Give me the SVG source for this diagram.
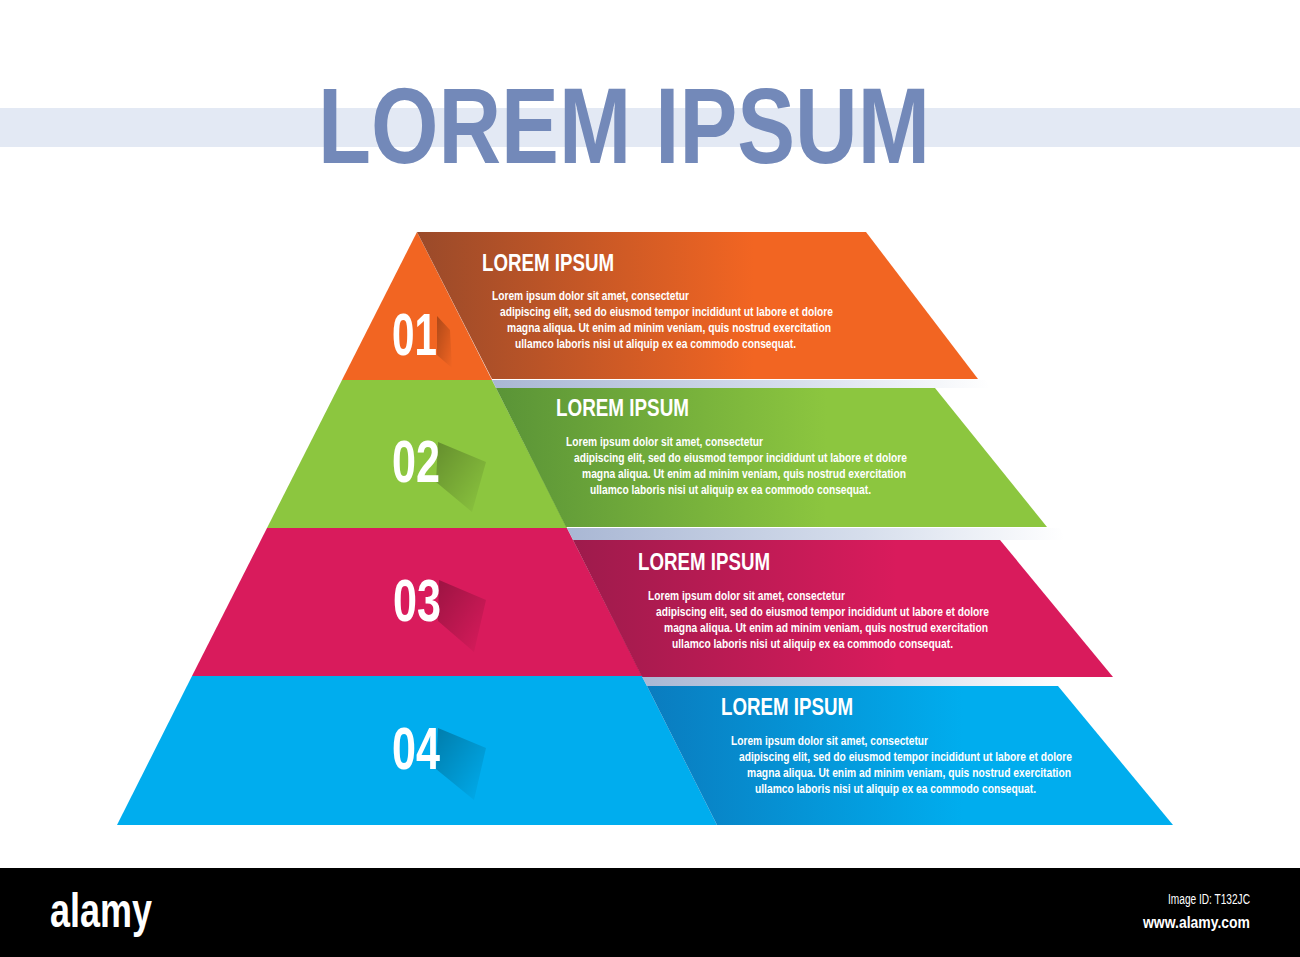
<svg xmlns="http://www.w3.org/2000/svg" width="1300" height="957" viewBox="0 0 1300 957">
<defs>
<style>
.num{font-family:"Liberation Sans",Arial,sans-serif;font-weight:bold;font-size:60px;fill:#ffffff}
.ttl{font-family:"Liberation Sans",Arial,sans-serif;font-weight:bold;font-size:24px;fill:#ffffff}
.body{font-family:"Liberation Sans",Arial,sans-serif;font-weight:bold;font-size:12px;fill:#ffffff}
.head{font-family:"Liberation Sans",Arial,sans-serif;font-weight:bold;font-size:108px;fill:#7389b9}
</style>
<linearGradient id="gO" x1="0" y1="0" x2="1" y2="0"><stop offset="0" stop-color="#9a4a2a"/><stop offset="0.6" stop-color="#f26522"/><stop offset="1" stop-color="#f26522"/></linearGradient>
<linearGradient id="gG" x1="0" y1="0" x2="1" y2="0"><stop offset="0" stop-color="#5a9437"/><stop offset="0.6" stop-color="#8cc63f"/><stop offset="1" stop-color="#8cc63f"/></linearGradient>
<linearGradient id="gP" x1="0" y1="0" x2="1" y2="0"><stop offset="0" stop-color="#9e1b4c"/><stop offset="0.6" stop-color="#d91b5c"/><stop offset="1" stop-color="#d91b5c"/></linearGradient>
<linearGradient id="gB" x1="0" y1="0" x2="1" y2="0"><stop offset="0" stop-color="#0a7cbf"/><stop offset="0.6" stop-color="#00adee"/><stop offset="1" stop-color="#00adee"/></linearGradient>
<linearGradient id="strip" x1="0" y1="0" x2="1" y2="0"><stop offset="0" stop-color="#a9b7d4"/><stop offset="0.6" stop-color="#d6deec"/><stop offset="1" stop-color="#ffffff"/></linearGradient>
<linearGradient id="shd" x1="0" y1="0" x2="1" y2="1"><stop offset="0" stop-color="#000000" stop-opacity="0.28"/><stop offset="1" stop-color="#000000" stop-opacity="0"/></linearGradient>
</defs>
<rect x="0" y="0" width="1300" height="957" fill="#ffffff"/>
<g id="header">
<rect x="0" y="108" width="1300" height="39" fill="#e3e9f4"/>
<text class="head" x="318" y="163" textLength="612" lengthAdjust="spacingAndGlyphs">LOREM IPSUM</text>
</g>
<g id="tier1">
<polygon points="417,232 492,380 342,380" fill="#f26522"/>
<polygon points="417,232 866,232 978,379 492,379" fill="url(#gO)"/>
<polygon points="437,316 450,330 452,368 437,355" fill="url(#shd)"/>
<text class="num" x="392" y="355" textLength="45" lengthAdjust="spacingAndGlyphs">01</text>
<text class="ttl" x="482" y="271" textLength="132" lengthAdjust="spacingAndGlyphs">LOREM IPSUM</text>
<text class="body" x="492" y="300" textLength="197" lengthAdjust="spacingAndGlyphs">Lorem ipsum dolor sit amet, consectetur</text>
<text class="body" x="500" y="316" textLength="333" lengthAdjust="spacingAndGlyphs">adipiscing elit, sed do eiusmod tempor incididunt ut labore et dolore</text>
<text class="body" x="507" y="332" textLength="324" lengthAdjust="spacingAndGlyphs">magna aliqua. Ut enim ad minim veniam, quis nostrud exercitation</text>
<text class="body" x="515" y="348" textLength="281" lengthAdjust="spacingAndGlyphs">ullamco laboris nisi ut aliquip ex ea commodo consequat.</text>
</g>
<g id="tier2">
<polygon points="342,380 492,380 567,528 267,528" fill="#8cc63f"/>
<polygon points="492,380 985,380 990,388 496,388" fill="url(#strip)"/>
<polygon points="496,388 935,388 1047,527 566,527" fill="url(#gG)"/>
<polygon points="438,442 486,462 472,512 436,482" fill="url(#shd)"/>
<text class="num" x="392" y="482" textLength="48" lengthAdjust="spacingAndGlyphs">02</text>
<text class="ttl" x="556" y="416" textLength="133" lengthAdjust="spacingAndGlyphs">LOREM IPSUM</text>
<text class="body" x="566" y="446" textLength="197" lengthAdjust="spacingAndGlyphs">Lorem ipsum dolor sit amet, consectetur</text>
<text class="body" x="574" y="462" textLength="333" lengthAdjust="spacingAndGlyphs">adipiscing elit, sed do eiusmod tempor incididunt ut labore et dolore</text>
<text class="body" x="582" y="478" textLength="324" lengthAdjust="spacingAndGlyphs">magna aliqua. Ut enim ad minim veniam, quis nostrud exercitation</text>
<text class="body" x="590" y="494" textLength="281" lengthAdjust="spacingAndGlyphs">ullamco laboris nisi ut aliquip ex ea commodo consequat.</text>
</g>
<g id="tier3">
<polygon points="267,528 567,528 642,676 192,676" fill="#d91b5c"/>
<polygon points="567,528 1060,528 1065,540 573,540" fill="url(#strip)"/>
<polygon points="573,540 1000,540 1113,677 642,677" fill="url(#gP)"/>
<polygon points="439,580 486,600 474,652 438,621" fill="url(#shd)"/>
<text class="num" x="393" y="621" textLength="48" lengthAdjust="spacingAndGlyphs">03</text>
<text class="ttl" x="638" y="570" textLength="132" lengthAdjust="spacingAndGlyphs">LOREM IPSUM</text>
<text class="body" x="648" y="600" textLength="197" lengthAdjust="spacingAndGlyphs">Lorem ipsum dolor sit amet, consectetur</text>
<text class="body" x="656" y="616" textLength="333" lengthAdjust="spacingAndGlyphs">adipiscing elit, sed do eiusmod tempor incididunt ut labore et dolore</text>
<text class="body" x="664" y="632" textLength="324" lengthAdjust="spacingAndGlyphs">magna aliqua. Ut enim ad minim veniam, quis nostrud exercitation</text>
<text class="body" x="672" y="648" textLength="281" lengthAdjust="spacingAndGlyphs">ullamco laboris nisi ut aliquip ex ea commodo consequat.</text>
</g>
<g id="tier4">
<polygon points="192,676 642,676 717,825 117,825" fill="#00adee"/>
<polygon points="642,677 1060,677 1062,686 647,686" fill="url(#strip)"/>
<polygon points="647,686 1058,686 1173,825 717,825" fill="url(#gB)"/>
<polygon points="438,728 486,748 474,800 436,769" fill="url(#shd)"/>
<text class="num" x="392" y="769" textLength="48" lengthAdjust="spacingAndGlyphs">04</text>
<text class="ttl" x="721" y="715" textLength="132" lengthAdjust="spacingAndGlyphs">LOREM IPSUM</text>
<text class="body" x="731" y="745" textLength="197" lengthAdjust="spacingAndGlyphs">Lorem ipsum dolor sit amet, consectetur</text>
<text class="body" x="739" y="761" textLength="333" lengthAdjust="spacingAndGlyphs">adipiscing elit, sed do eiusmod tempor incididunt ut labore et dolore</text>
<text class="body" x="747" y="777" textLength="324" lengthAdjust="spacingAndGlyphs">magna aliqua. Ut enim ad minim veniam, quis nostrud exercitation</text>
<text class="body" x="755" y="793" textLength="281" lengthAdjust="spacingAndGlyphs">ullamco laboris nisi ut aliquip ex ea commodo consequat.</text>
</g>
<g id="connectors"></g>
<g id="banner">
<rect x="0" y="868" width="1300" height="89" fill="#000000"/>
<text x="50" y="927" font-family="Liberation Sans,Arial,sans-serif" font-weight="bold" font-size="48" fill="#ffffff" textLength="102" lengthAdjust="spacingAndGlyphs">alamy</text>
<text x="1168" y="904" font-family="Liberation Sans,Arial,sans-serif" font-size="14" fill="#ffffff" textLength="82" lengthAdjust="spacingAndGlyphs">Image ID: T132JC</text>
<text x="1143" y="928" font-family="Liberation Sans,Arial,sans-serif" font-weight="bold" font-size="17" fill="#ffffff" textLength="107" lengthAdjust="spacingAndGlyphs">www.alamy.com</text>
</g>
</svg>
